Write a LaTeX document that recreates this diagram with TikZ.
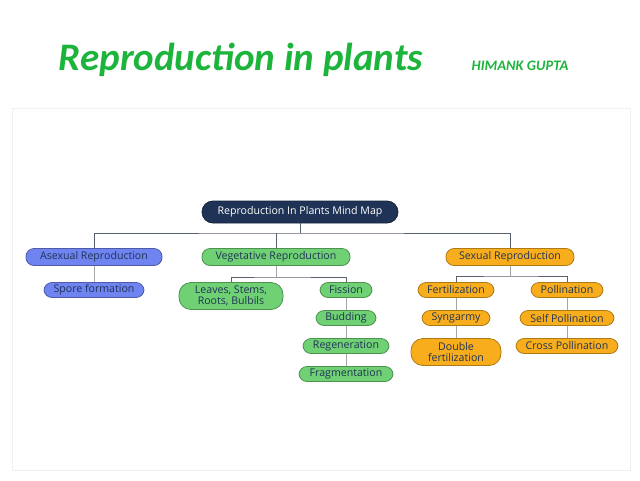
\documentclass[tikz,border=0pt]{standalone}
\usepackage{fontspec}
\setmainfont{Open Sans}
\newfontfamily\titlefont{Carlito}
\definecolor{navy}{HTML}{1F3356}
\definecolor{bblue}{HTML}{6F84F0}
\definecolor{bgreen}{HTML}{6FD173}
\definecolor{borange}{HTML}{F8AE1C}
\definecolor{tgreen}{HTML}{1DB43C}
\begin{document}
\begin{tikzpicture}[x=1pt,y=-1pt,
  box/.style={rounded corners=8pt,draw=#1!70!black,line width=0.8pt,fill=#1,font=\fontsize{10.6}{11.5}\selectfont,text=navy,inner sep=0pt,minimum height=17pt,align=center},
  ln/.style={draw=gray!60!navy,line width=0.9pt},
  lk/.style={draw=gray!70,line width=0.9pt}]
\useasboundingbox (0,0) rectangle (640,480);
\draw[gray!12,line width=1pt] (12,108) rectangle (630,470);
\node[text=tgreen,font=\titlefont\bfseries\itshape\fontsize{39}{42}\selectfont] (title) at (241,60) {Reproduction in plants};
\node[text=tgreen,font=\titlefont\bfseries\itshape\fontsize{14.5}{16}\selectfont] (auth) at (520,66) {HIMANK GUPTA};
\node[box=navy,text=white,minimum width=196pt,minimum height=22pt,rounded corners=11pt] (root) at (300,212) {Reproduction In Plants Mind Map};
\node[box=bblue,minimum width=136pt] (asx) at (94,257) {Asexual Reproduction};
\node[box=bblue,minimum width=100pt,minimum height=15pt] (spore) at (94,290) {Spore formation};
\node[box=bgreen,minimum width=148pt] (veg) at (276,257) {Vegetative Reproduction};
\node[box=bgreen,minimum width=104pt,minimum height=27pt,rounded corners=12pt] (leaves) at (231,296) {Leaves, Stems,\\Roots, Bulbils};
\node[box=bgreen,minimum width=52pt,minimum height=15pt] (fis) at (346,290) {Fission};
\node[box=bgreen,minimum width=60pt,minimum height=15pt] (bud) at (346,318) {Budding};
\node[box=bgreen,minimum width=86pt,minimum height=15pt] (reg) at (346,346) {Regeneration};
\node[box=bgreen,minimum width=94pt,minimum height=15pt] (frag) at (346,374) {Fragmentation};
\node[box=borange,minimum width=128pt] (sex) at (510,257) {Sexual Reproduction};
\node[box=borange,minimum width=76pt,minimum height=15pt] (fert) at (456,290) {Fertilization};
\node[box=borange,minimum width=68pt,minimum height=15pt] (syn) at (456,318) {Syngarmy};
\node[box=borange,minimum width=90pt,minimum height=27pt,rounded corners=12pt] (dbl) at (456,352) {Double\\fertilization};
\node[box=borange,minimum width=72pt,minimum height=15pt] (pol) at (567,290) {Pollination};
\node[box=borange,minimum width=94pt,minimum height=15pt] (self) at (567,318) {Self Pollination};
\node[box=borange,minimum width=102pt,minimum height=15pt] (cross) at (567,346) {Cross Pollination};
\coordinate (b1) at (300,233);
\draw[ln] (root.south) -- (b1);
\draw[ln] (asx.north) |- (b1) -| (sex.north);
\draw[ln] (veg.north) -- (veg.north |- b1);
\draw[lk] (asx.south) -- (spore.north);
\coordinate (b2) at (276,277);
\draw[lk] (veg.south) -- (b2);
\draw[ln] (leaves.north) |- (b2) -| (fis.north);
\draw[lk] (fis) -- (bud) (bud) -- (reg) (reg) -- (frag);
\coordinate (b3) at (510,276);
\draw[lk] (sex.south) -- (b3);
\draw[ln] (fert.north) |- (b3) -| (pol.north);
\draw[lk] (fert) -- (syn) (syn) -- (dbl) (pol) -- (self) (self) -- (cross);
\end{tikzpicture}
\end{document}
